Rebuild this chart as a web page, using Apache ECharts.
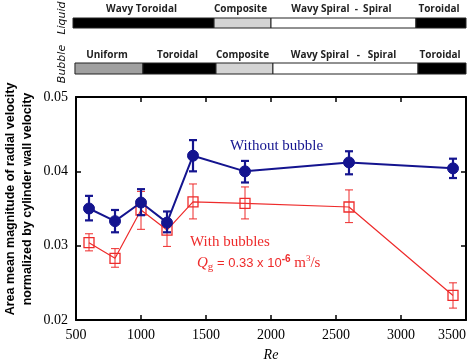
<!DOCTYPE html>
<html><head><meta charset="utf-8">
<script src="https://cdn.jsdelivr.net/npm/echarts@6/dist/echarts.min.js"></script>
<style>html,body{margin:0;padding:0;background:#fff}#c{width:474px;height:361px}</style>
</head><body><div id="c"></div>
<script>
// ---- data ----
const reValues = [600, 800, 1000, 1200, 1400, 1800, 2600, 3400];
const withoutBubble = [0.0350, 0.0333, 0.0358, 0.0331, 0.0421, 0.0400, 0.0412, 0.0404];
const withoutBubbleLow = [0.0334, 0.0318, 0.0341, 0.0318, 0.0400, 0.0385, 0.0396, 0.0391];
const withoutBubbleHigh = [0.0367, 0.0348, 0.0376, 0.0346, 0.0442, 0.0414, 0.0427, 0.0417];
const withBubbles = [0.0304, 0.0283, 0.0348, 0.0321, 0.0359, 0.0357, 0.0352, 0.0233];
const withBubblesLow = [0.0293, 0.0271, 0.0322, 0.0299, 0.0336, 0.0336, 0.0331, 0.0216];
const withBubblesHigh = [0.0316, 0.0296, 0.0373, 0.0333, 0.0383, 0.0379, 0.0375, 0.0250];
const xTicks = [500, 1000, 1500, 2000, 2500, 3000, 3500];
const yTicks = ['0.02', '0.03', '0.04', '0.05'];
const liquidRegimes = ['Wavy Toroidal', 'Composite', 'Wavy Spiral  -  Spiral', 'Toroidal'];
const liquidEdges = [477, 1562, 2000, 3115, 3500];
const bubbleRegimes = ['Uniform', 'Toroidal', 'Composite', 'Wavy Spiral   -   Spiral', 'Toroidal'];
const bubbleEdges = [492, 1015, 1577, 2015, 3131, 3500];

// ---- styling helpers ----
function regimeColor(name) {
  if (name.indexOf('Spiral') >= 0) return '#ffffff';
  if (name.indexOf('Composite') >= 0) return '#d4d4d4';
  if (name.indexOf('Uniform') >= 0) return '#a0a0a0';
  return '#000000';
}
function bandData(regimes, edges) {
  return regimes.map((r, i) => [edges[i], edges[i + 1]]);
}
function bandRender(regimes, labelOffset) {
  return function (params, api) {
    const p0 = api.coord([api.value(0), 1]);
    const p1 = api.coord([api.value(1), 0]);
    const name = regimes[params.dataIndex];
    return {
      type: 'group',
      children: [
        { type: 'rect', shape: { x: p0[0], y: p0[1], width: p1[0] - p0[0], height: p1[1] - p0[1] },
          style: { fill: regimeColor(name), stroke: '#222', lineWidth: 1 } },
        { type: 'text', x: (p0[0] + p1[0]) / 2 - 2, y: p0[1] + labelOffset,
          style: { text: name, fill: '#222', font: 'bold 10px "Open Sans"', align: 'center', verticalAlign: 'middle' } }
      ]
    };
  };
}
function errData(xs, lo, hi) { return xs.map((x, i) => [x, lo[i], hi[i]]); }
function errRender(color, width, half) {
  return function (params, api) {
    const a = api.coord([api.value(0), api.value(1)]);
    const b = api.coord([api.value(0), api.value(2)]);
    const st = { stroke: color, lineWidth: width };
    return {
      type: 'group',
      children: [
        { type: 'line', shape: { x1: a[0], y1: a[1], x2: b[0], y2: b[1] }, style: st },
        { type: 'line', shape: { x1: a[0] - half, y1: a[1], x2: a[0] + half, y2: a[1] }, style: st },
        { type: 'line', shape: { x1: b[0] - half, y1: b[1], x2: b[0] + half, y2: b[1] }, style: st }
      ]
    };
  };
}
const BLUE = '#14148f';
const RED = '#ee2b2b';
const serif = '"Liberation Serif", "Times New Roman", serif';

const chart = echarts.init(document.getElementById('c'), null, { renderer: 'canvas' });
const tickMin = xTicks[0], tickMax = xTicks[xTicks.length - 1];
const yMin = parseFloat(yTicks[0]), yMax = parseFloat(yTicks[yTicks.length - 1]);

chart.setOption({
  animation: false,
  grid: [
    { left: 76, right: 8, top: 97, bottom: 41, outerBoundsMode: 'none', containLabel: false },
    { left: 76, right: 8, top: 18, height: 10, outerBoundsMode: 'none' },
    { left: 76, right: 8, top: 63, height: 11, outerBoundsMode: 'none' }
  ],
  xAxis: [
    { gridIndex: 0, type: 'value', min: tickMin, max: tickMax, interval: 500,
      axisLine: { lineStyle: { color: '#000', width: 2 } },
      axisTick: { inside: true, length: 5, lineStyle: { color: '#000', width: 1.5 } },
      axisLabel: { color: '#000', fontFamily: serif, fontSize: 14, margin: 8, formatter: v => String(v),
        alignMaxLabel: 'right' },
      splitLine: { show: false },
      name: 'Re', nameLocation: 'middle', nameGap: 28,
      nameTextStyle: { fontFamily: serif, fontStyle: 'italic', fontSize: 14, color: '#000' } },
    { gridIndex: 0, type: 'value', position: 'top', min: tickMin, max: tickMax, interval: 500,
      axisLine: { lineStyle: { color: '#000', width: 2 } },
      axisTick: { inside: true, length: 5, lineStyle: { color: '#000', width: 1.5 } },
      axisLabel: { show: false }, splitLine: { show: false } },
    { gridIndex: 1, type: 'value', min: tickMin, max: tickMax, show: false },
    { gridIndex: 2, type: 'value', min: tickMin, max: tickMax, show: false }
  ],
  yAxis: [
    { gridIndex: 0, type: 'value', min: yMin, max: yMax, interval: 0.01,
      axisLine: { show: true, lineStyle: { color: '#000', width: 2 } },
      axisTick: { show: true, inside: true, length: 5, lineStyle: { color: '#000', width: 1.5 } },
      axisLabel: { color: '#000', fontFamily: serif, fontSize: 14, margin: 8,
        formatter: v => v.toFixed(2) },
      splitLine: { show: false } },
    { gridIndex: 0, type: 'value', position: 'right', min: yMin, max: yMax, interval: 0.01,
      axisLine: { show: true, lineStyle: { color: '#000', width: 2 } },
      axisTick: { show: true, inside: true, length: 5, lineStyle: { color: '#000', width: 1.5 } },
      axisLabel: { show: false }, splitLine: { show: false } },
    { gridIndex: 1, type: 'value', min: 0, max: 1, show: false },
    { gridIndex: 2, type: 'value', min: 0, max: 1, show: false }
  ],
  series: [
    { type: 'custom', xAxisIndex: 2, yAxisIndex: 2, clip: false,
      data: bandData(liquidRegimes, liquidEdges), renderItem: bandRender(liquidRegimes, -9) },
    { type: 'custom', xAxisIndex: 3, yAxisIndex: 3, clip: false,
      data: bandData(bubbleRegimes, bubbleEdges), renderItem: bandRender(bubbleRegimes, -8) },
    { type: 'custom', xAxisIndex: 0, yAxisIndex: 0, clip: false, z: 3,
      data: errData(reValues, withBubblesLow, withBubblesHigh), renderItem: errRender(RED, 1, 4) },
    { type: 'line', xAxisIndex: 0, yAxisIndex: 0, z: 4,
      data: reValues.map((x, i) => [x, withBubbles[i]]),
      symbol: 'rect', symbolSize: 10, showAllSymbol: true,
      lineStyle: { color: RED, width: 1.2 },
      itemStyle: { color: 'rgba(255,255,255,0)', borderColor: RED, borderWidth: 1.3 } },
    { type: 'custom', xAxisIndex: 0, yAxisIndex: 0, clip: false, z: 5,
      data: errData(reValues, withoutBubbleLow, withoutBubbleHigh), renderItem: errRender(BLUE, 2.2, 4) },
    { type: 'line', xAxisIndex: 0, yAxisIndex: 0, z: 6,
      data: reValues.map((x, i) => [x, withoutBubble[i]]),
      symbol: 'circle', symbolSize: 11, showAllSymbol: true,
      lineStyle: { color: BLUE, width: 2 },
      itemStyle: { color: BLUE, borderColor: BLUE } }
  ],
  graphic: [
    { type: 'text', x: 19, y: 199, rotation: Math.PI / 2,
      style: { text: 'Area mean magnitude of radial velocity\nnormalized by cylinder wall velocity',
        font: 'bold 12.5px "Liberation Sans", Arial, sans-serif', fill: '#000', align: 'center',
        verticalAlign: 'middle', lineHeight: 17 } },
    { type: 'text', x: 62, y: 18, rotation: Math.PI / 2,
      style: { text: 'Liquid', font: 'italic 11px "DejaVu Sans"', fill: '#111', align: 'center', verticalAlign: 'middle' } },
    { type: 'text', x: 62, y: 64, rotation: Math.PI / 2,
      style: { text: 'Bubble', font: 'italic 11px "DejaVu Sans"', fill: '#111', align: 'center', verticalAlign: 'middle' } },
    { type: 'text', x: 230, y: 146,
      style: { text: 'Without bubble', font: '15px ' + serif, fill: BLUE, verticalAlign: 'middle' } },
    { type: 'text', x: 190, y: 242,
      style: { text: 'With bubbles', font: '15px ' + serif, fill: RED, verticalAlign: 'middle' } },
    { type: 'text', x: 197, y: 263,
      style: { text: '{q|Q}{sub|g}{n| = 0.33 x 10}{sup|-6}{u| m}{sup2|3}{u|/s}', fill: RED, verticalAlign: 'middle',
        rich: {
          q: { fontFamily: serif, fontStyle: 'italic', fontSize: 15, color: RED },
          sub: { fontFamily: serif, fontSize: 11, color: RED, padding: [8, 0, 0, 0] },
          n: { fontFamily: '"Liberation Sans", Arial, sans-serif', fontSize: 13, color: RED },
          sup: { fontFamily: '"Liberation Sans", Arial, sans-serif', fontSize: 10, fontWeight: 'bold', color: RED, padding: [0, 0, 8, 0] },
          u: { fontFamily: serif, fontSize: 15, color: RED },
          sup2: { fontFamily: serif, fontSize: 9, color: RED, padding: [0, 0, 8, 0] }
        } } }
  ]
});
</script></body></html>
